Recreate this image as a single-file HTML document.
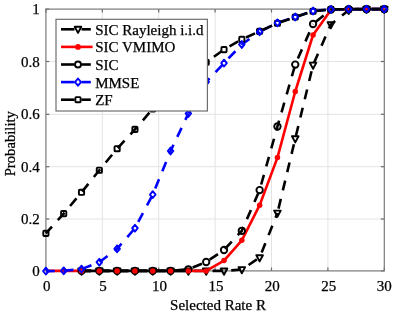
<!DOCTYPE html>
<html><head><meta charset="utf-8"><style>
html,body{margin:0;padding:0;background:#fff;width:394px;height:314px;overflow:hidden}
svg{display:block}
text{font-family:"Liberation Serif","Times New Roman",serif;fill:#000;stroke:#000;stroke-width:0.25px}
</style></head><body>
<svg width="394" height="314" viewBox="0 0 394 314">
<rect width="394" height="314" fill="#fff"/>
<g stroke="#e3e3e3" stroke-width="1"><line x1="102.30" y1="9.1" x2="102.30" y2="270.9"/><line x1="158.70" y1="9.1" x2="158.70" y2="270.9"/><line x1="215.10" y1="9.1" x2="215.10" y2="270.9"/><line x1="271.50" y1="9.1" x2="271.50" y2="270.9"/><line x1="327.90" y1="9.1" x2="327.90" y2="270.9"/><line x1="45.9" y1="219.00" x2="384.3" y2="219.00"/><line x1="45.9" y1="166.70" x2="384.3" y2="166.70"/><line x1="45.9" y1="114.30" x2="384.3" y2="114.30"/><line x1="45.9" y1="61.50" x2="384.3" y2="61.50"/></g>
<g stroke="#6a6a6a" stroke-width="1.2"><line x1="45.90" y1="270.9" x2="45.90" y2="267.50"/><line x1="45.90" y1="9.1" x2="45.90" y2="12.50"/><line x1="102.30" y1="270.9" x2="102.30" y2="267.50"/><line x1="102.30" y1="9.1" x2="102.30" y2="12.50"/><line x1="158.70" y1="270.9" x2="158.70" y2="267.50"/><line x1="158.70" y1="9.1" x2="158.70" y2="12.50"/><line x1="215.10" y1="270.9" x2="215.10" y2="267.50"/><line x1="215.10" y1="9.1" x2="215.10" y2="12.50"/><line x1="271.50" y1="270.9" x2="271.50" y2="267.50"/><line x1="271.50" y1="9.1" x2="271.50" y2="12.50"/><line x1="327.90" y1="270.9" x2="327.90" y2="267.50"/><line x1="327.90" y1="9.1" x2="327.90" y2="12.50"/><line x1="384.30" y1="270.9" x2="384.30" y2="267.50"/><line x1="384.30" y1="9.1" x2="384.30" y2="12.50"/><line x1="45.9" y1="270.90" x2="49.30" y2="270.90"/><line x1="384.3" y1="270.90" x2="380.90" y2="270.90"/><line x1="45.9" y1="219.00" x2="49.30" y2="219.00"/><line x1="384.3" y1="219.00" x2="380.90" y2="219.00"/><line x1="45.9" y1="166.70" x2="49.30" y2="166.70"/><line x1="384.3" y1="166.70" x2="380.90" y2="166.70"/><line x1="45.9" y1="114.30" x2="49.30" y2="114.30"/><line x1="384.3" y1="114.30" x2="380.90" y2="114.30"/><line x1="45.9" y1="61.50" x2="49.30" y2="61.50"/><line x1="384.3" y1="61.50" x2="380.90" y2="61.50"/><line x1="45.9" y1="9.10" x2="49.30" y2="9.10"/><line x1="384.3" y1="9.10" x2="380.90" y2="9.10"/></g>
<rect x="45.9" y="9.1" width="338.40" height="261.80" fill="none" stroke="#7a7a7a" stroke-width="1.2"/>
<g fill="none" stroke-linejoin="round">
<polyline points="81.52,270.90 99.33,270.90 117.14,270.90 134.95,270.90 152.76,270.90 170.57,270.90 188.38,270.90 206.19,270.90 224.01,270.90 241.82,269.50 259.63,257.60 277.44,213.00" stroke="#000" stroke-width="2.6" stroke-dasharray="10 8.75" stroke-dashoffset="0.27"/>
<polyline points="277.44,213.00 295.25,138.60 313.06,65.00 330.87,24.50 348.68,10.20 366.49,9.20 384.30,9.10" stroke="#000" stroke-width="2.6" stroke-dasharray="10 8.75" stroke-dashoffset="14.25"/>
<g fill="none" stroke="#000" stroke-width="1.9"><path d="M78.22 268.50L84.82 268.50L81.52 274.70Z"/><path d="M96.03 268.50L102.63 268.50L99.33 274.70Z"/><path d="M113.84 268.50L120.44 268.50L117.14 274.70Z"/><path d="M131.65 268.50L138.25 268.50L134.95 274.70Z"/><path d="M149.46 268.50L156.06 268.50L152.76 274.70Z"/><path d="M167.27 268.50L173.87 268.50L170.57 274.70Z"/><path d="M185.08 268.50L191.68 268.50L188.38 274.70Z"/><path d="M202.89 268.50L209.49 268.50L206.19 274.70Z"/><path d="M220.71 268.50L227.31 268.50L224.01 274.70Z"/><path d="M238.52 267.10L245.12 267.10L241.82 273.30Z"/><path d="M256.33 255.20L262.93 255.20L259.63 261.40Z"/><path d="M274.14 210.60L280.74 210.60L277.44 216.80Z"/><path d="M291.95 136.20L298.55 136.20L295.25 142.40Z"/><path d="M309.76 62.60L316.36 62.60L313.06 68.80Z"/><path d="M327.57 22.10L334.17 22.10L330.87 28.30Z"/><path d="M345.38 7.80L351.98 7.80L348.68 14.00Z"/><path d="M363.19 6.80L369.79 6.80L366.49 13.00Z"/><path d="M381.00 6.70L387.60 6.70L384.30 12.90Z"/></g>
<polyline points="188.38,270.90 206.19,270.90 224.01,260.60 241.82,240.30 259.63,205.20 277.44,157.60 295.25,91.50 313.06,35.00 330.87,10.00 348.68,9.20 366.49,9.10 384.30,9.10" stroke="#f00" stroke-width="2.6"/><line x1="45.9" y1="270.9" x2="81.52" y2="270.9" stroke="#f00" stroke-width="2.6"/>
<polyline points="81.52,270.90 99.33,270.90 117.14,270.90 134.95,270.90 152.76,270.90 170.57,270.90 188.38,269.30 206.19,262.00 224.01,250.00 241.82,230.80 259.63,190.10 277.44,126.50 295.25,64.60 313.06,24.00" stroke="#000" stroke-width="2.6" stroke-dasharray="10 8.75" stroke-dashoffset="0.90"/>
<polyline points="313.06,24.00 330.87,9.60 348.68,9.20 366.49,9.10 384.30,9.10" stroke="#000" stroke-width="2.6" stroke-dasharray="10 8.75" stroke-dashoffset="15.15"/>
<line x1="81.52" y1="270.9" x2="188.38" y2="270.9" stroke="#000" stroke-width="2.6"/>
<g fill="none" stroke="#000" stroke-width="1.9"><circle cx="81.52" cy="270.90" r="3.2"/><circle cx="99.33" cy="270.90" r="3.2"/><circle cx="117.14" cy="270.90" r="3.2"/><circle cx="134.95" cy="270.90" r="3.2"/><circle cx="152.76" cy="270.90" r="3.2"/><circle cx="170.57" cy="270.90" r="3.2"/><circle cx="188.38" cy="269.30" r="3.2"/><circle cx="206.19" cy="262.00" r="3.2"/><circle cx="224.01" cy="250.00" r="3.2"/><circle cx="241.82" cy="230.80" r="3.2"/><circle cx="259.63" cy="190.10" r="3.2"/><circle cx="277.44" cy="126.50" r="3.2"/><circle cx="295.25" cy="64.60" r="3.2"/><circle cx="313.06" cy="24.00" r="3.2"/><circle cx="330.87" cy="9.60" r="3.2"/><circle cx="348.68" cy="9.20" r="3.2"/><circle cx="366.49" cy="9.10" r="3.2"/><circle cx="384.30" cy="9.10" r="3.2"/></g>
<g fill="#f00"><circle cx="63.71" cy="270.90" r="2.75"/><circle cx="81.52" cy="270.90" r="2.75"/><circle cx="99.33" cy="270.90" r="2.75"/><circle cx="117.14" cy="270.90" r="2.75"/><circle cx="134.95" cy="270.90" r="2.75"/><circle cx="152.76" cy="270.90" r="2.75"/><circle cx="170.57" cy="270.90" r="2.75"/><circle cx="188.38" cy="270.90" r="2.75"/><circle cx="206.19" cy="270.90" r="2.75"/><circle cx="224.01" cy="260.60" r="2.75"/><circle cx="241.82" cy="240.30" r="2.75"/><circle cx="259.63" cy="205.20" r="2.75"/><circle cx="277.44" cy="157.60" r="2.75"/><circle cx="295.25" cy="91.50" r="2.75"/><circle cx="313.06" cy="35.00" r="2.75"/></g>
<polyline points="45.90,271.10 63.71,270.80 81.52,269.10 99.33,262.20 117.14,248.80 134.95,228.20 152.76,194.60 170.57,151.00 188.38,113.50" stroke="#00f" stroke-width="2.6" stroke-dasharray="10 8.75" stroke-dashoffset="1.14"/>
<polyline points="188.38,113.50 206.19,82.00 224.01,63.10 241.82,44.50 259.63,31.80" stroke="#00f" stroke-width="2.6" stroke-dasharray="10 8.75" stroke-dashoffset="6.40"/>
<polyline points="259.63,31.80 277.44,22.80 295.25,17.00 313.06,11.00 330.87,9.40 348.68,9.20 366.49,9.10 384.30,9.10" stroke="#00f" stroke-width="2.6" stroke-dasharray="10 8.75" stroke-dashoffset="15.05"/>
<polyline points="45.90,233.40 63.71,213.60 81.52,192.30 99.33,170.20 117.14,148.70 134.95,129.40 152.76,108.90 170.57,89.00 188.38,73.50" stroke="#000" stroke-width="2.6" stroke-dasharray="10 8.75" stroke-dashoffset="0.95"/>
<polyline points="188.38,73.50 206.19,62.30 224.01,49.60 241.82,39.40 259.63,31.20 277.44,23.30 295.25,17.00 313.06,11.30 330.87,9.40 348.68,9.20 366.49,9.10 384.30,9.10" stroke="#000" stroke-width="2.6" stroke-dasharray="10 8.75" stroke-dashoffset="7.00"/>
<g fill="none" stroke="#000" stroke-width="1.9"><rect x="43.30" y="230.80" width="5.2" height="5.2" rx="0.9"/><rect x="61.11" y="211.00" width="5.2" height="5.2" rx="0.9"/><rect x="78.92" y="189.70" width="5.2" height="5.2" rx="0.9"/><rect x="96.73" y="167.60" width="5.2" height="5.2" rx="0.9"/><rect x="114.54" y="146.10" width="5.2" height="5.2" rx="0.9"/><rect x="132.35" y="126.80" width="5.2" height="5.2" rx="0.9"/><rect x="150.16" y="106.30" width="5.2" height="5.2" rx="0.9"/><rect x="167.97" y="86.40" width="5.2" height="5.2" rx="0.9"/><rect x="185.78" y="70.90" width="5.2" height="5.2" rx="0.9"/><rect x="203.59" y="59.70" width="5.2" height="5.2" rx="0.9"/><rect x="221.41" y="47.00" width="5.2" height="5.2" rx="0.9"/><rect x="239.22" y="36.80" width="5.2" height="5.2" rx="0.9"/><rect x="257.03" y="28.60" width="5.2" height="5.2" rx="0.9"/><rect x="274.84" y="20.70" width="5.2" height="5.2" rx="0.9"/><rect x="292.65" y="14.40" width="5.2" height="5.2" rx="0.9"/><rect x="310.46" y="8.70" width="5.2" height="5.2" rx="0.9"/><rect x="328.27" y="6.80" width="5.2" height="5.2" rx="0.9"/><rect x="346.08" y="6.60" width="5.2" height="5.2" rx="0.9"/><rect x="363.89" y="6.50" width="5.2" height="5.2" rx="0.9"/><rect x="381.70" y="6.50" width="5.2" height="5.2" rx="0.9"/></g>
<g fill="none" stroke="#00f" stroke-width="1.9"><path d="M45.90 267.70L48.70 271.10L45.90 274.50L43.10 271.10Z"/><path d="M63.71 267.40L66.51 270.80L63.71 274.20L60.91 270.80Z"/><path d="M81.52 265.70L84.32 269.10L81.52 272.50L78.72 269.10Z"/><path d="M99.33 258.80L102.13 262.20L99.33 265.60L96.53 262.20Z"/><path d="M117.14 245.40L119.94 248.80L117.14 252.20L114.34 248.80Z"/><path d="M134.95 224.80L137.75 228.20L134.95 231.60L132.15 228.20Z"/><path d="M152.76 191.20L155.56 194.60L152.76 198.00L149.96 194.60Z"/><path d="M170.57 147.60L173.37 151.00L170.57 154.40L167.77 151.00Z"/><path d="M188.38 110.10L191.18 113.50L188.38 116.90L185.58 113.50Z"/><path d="M206.19 78.60L208.99 82.00L206.19 85.40L203.39 82.00Z"/><path d="M224.01 59.70L226.81 63.10L224.01 66.50L221.21 63.10Z"/><path d="M241.82 41.10L244.62 44.50L241.82 47.90L239.02 44.50Z"/><path d="M259.63 28.40L262.43 31.80L259.63 35.20L256.83 31.80Z"/><path d="M277.44 19.40L280.24 22.80L277.44 26.20L274.64 22.80Z"/><path d="M295.25 13.60L298.05 17.00L295.25 20.40L292.45 17.00Z"/><path d="M313.06 7.60L315.86 11.00L313.06 14.40L310.26 11.00Z"/><path d="M330.87 6.00L333.67 9.40L330.87 12.80L328.07 9.40Z"/><path d="M348.68 5.80L351.48 9.20L348.68 12.60L345.88 9.20Z"/><path d="M366.49 5.70L369.29 9.10L366.49 12.50L363.69 9.10Z"/><path d="M384.30 5.70L387.10 9.10L384.30 12.50L381.50 9.10Z"/></g>
</g>
<rect x="56.0" y="19.3" width="151.40" height="91.70" fill="#fff" stroke="#6e6e6e" stroke-width="1.2"/>
<g font-size="15"><line x1="61.0" y1="29.3" x2="74.5" y2="29.3" stroke="#000" stroke-width="2.6"/><line x1="81.5" y1="29.3" x2="90.8" y2="29.3" stroke="#000" stroke-width="2.6"/><g fill="#fff" stroke="#000" stroke-width="1.9" stroke-linejoin="round"><path d="M74.7 26.8L81.3 26.8L78.0 32.9Z"/></g><text x="95.2" y="34.80">SIC Rayleigh i.i.d</text><line x1="61.0" y1="46.900000000000006" x2="92.6" y2="46.900000000000006" stroke="#f00" stroke-width="2.6"/><circle cx="78.0" cy="46.900000000000006" r="2.9" fill="#f00"/><text x="95.2" y="52.40">SIC VMIMO</text><line x1="61.0" y1="64.5" x2="74.5" y2="64.5" stroke="#000" stroke-width="2.6"/><line x1="81.5" y1="64.5" x2="90.8" y2="64.5" stroke="#000" stroke-width="2.6"/><g fill="#fff" stroke="#000" stroke-width="1.9" stroke-linejoin="round"><circle cx="78.0" cy="64.5" r="3.0"/></g><text x="95.2" y="70.00">SIC</text><line x1="61.0" y1="82.10000000000001" x2="74.5" y2="82.10000000000001" stroke="#00f" stroke-width="2.6"/><line x1="81.5" y1="82.10000000000001" x2="90.8" y2="82.10000000000001" stroke="#00f" stroke-width="2.6"/><g fill="#fff" stroke="#00f" stroke-width="1.9" stroke-linejoin="round"><path d="M78.0 78.50000000000001L81.0 82.10000000000001L78.0 85.7L75.0 82.10000000000001Z"/></g><text x="95.2" y="87.60">MMSE</text><line x1="61.0" y1="99.7" x2="74.5" y2="99.7" stroke="#000" stroke-width="2.6"/><line x1="81.5" y1="99.7" x2="90.8" y2="99.7" stroke="#000" stroke-width="2.6"/><g fill="#fff" stroke="#000" stroke-width="1.9" stroke-linejoin="round"><rect x="75.4" y="97.10000000000001" width="5.2" height="5.2" rx="0.8"/></g><text x="95.2" y="105.20">ZF</text></g>
<g font-size="15"><text x="46.70" y="290.8" text-anchor="middle">0</text><text x="103.10" y="290.8" text-anchor="middle">5</text><text x="159.50" y="290.8" text-anchor="middle">10</text><text x="215.90" y="290.8" text-anchor="middle">15</text><text x="272.30" y="290.8" text-anchor="middle">20</text><text x="328.70" y="290.8" text-anchor="middle">25</text><text x="384.30" y="290.8" text-anchor="middle">30</text><text x="39.8" y="276.40" text-anchor="end">0</text><text x="39.8" y="224.00" text-anchor="end">0.2</text><text x="39.8" y="171.70" text-anchor="end">0.4</text><text x="39.8" y="119.30" text-anchor="end">0.6</text><text x="39.8" y="66.70" text-anchor="end">0.8</text><text x="39.8" y="14.30" text-anchor="end">1</text></g>
<text x="218" y="309.8" font-size="15" text-anchor="middle">Selected Rate R</text>
<text transform="translate(15.0 143.7) rotate(-90)" font-size="14.7" text-anchor="middle">Probability</text>
</svg>
</body></html>
